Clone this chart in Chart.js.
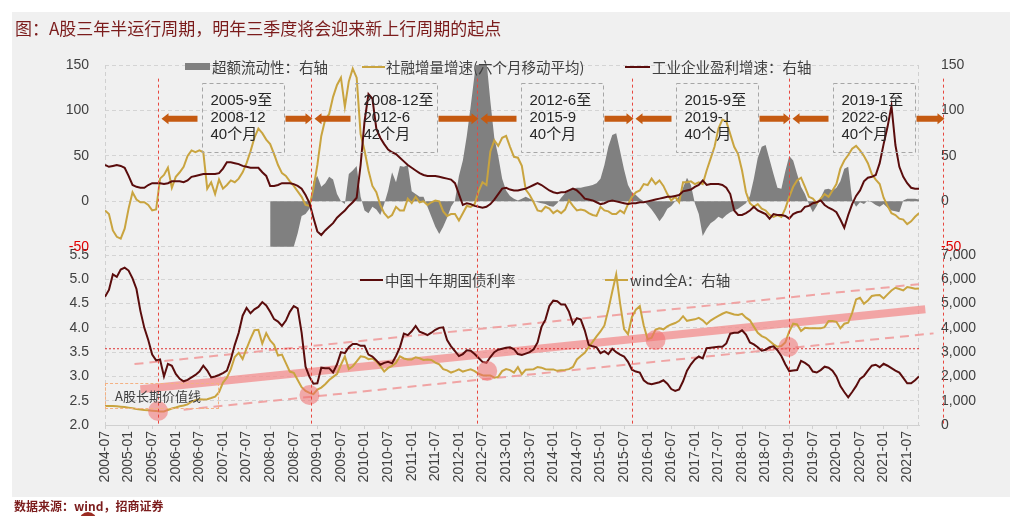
<!DOCTYPE html>
<html lang="zh-CN">
<head>
<meta charset="utf-8">
<title>A股三年半运行周期</title>
<script src="https://cdn.jsdelivr.net/npm/chart.js@4.4.1/dist/chart.umd.min.js"></script>
<style>
  html, body { margin: 0; padding: 0; background: #fff; }
  #wrap { position: relative; width: 1021px; height: 516px; overflow: hidden; font-family: "Noto Sans CJK SC", sans-serif; }
  #panel { position: absolute; left: 12px; top: 12px; width: 998px; height: 485px; background: #f0f0f0; }
  #chart { position: absolute; left: 0; top: 0; }
  .t { position: absolute; white-space: nowrap; line-height: 16px; color: #404040; font-size: 14.5px; }
  .sw { position: absolute; }
  #title { position: absolute; left: 15px; top: 18px; font-size: 17px; line-height: 20px; color: #7b1c1c; white-space: nowrap; }
  #source { position: absolute; left: 14px; top: 498px; font-size: 12px; line-height: 16px; font-weight: bold; color: #7b1c1c; white-space: nowrap; }
  #logo { position: absolute; left: 79px; top: 512px; width: 18px; height: 18px; border-radius: 50%; background: #9b2b22; }
  #valline { position: absolute; left: 105px; top: 383px; width: 112px; height: 24px; border: 1px dashed #f4b183; }
  #valline span { position: absolute; left: 9px; top: 4px; font-size: 13px; line-height: 16px; color: #404040; white-space: nowrap; }
</style>
</head>
<body>
<div id="wrap">
  <div id="panel"></div>
  <canvas id="chart" width="1021" height="516"></canvas>
  <div id="title">图：A股三年半运行周期，明年三季度将会迎来新上行周期的起点</div>

  <div class="sw" style="left:185px;top:63px;width:25px;height:7px;background:#808080"></div>
  <div class="t" style="left:212px;top:59px">超额流动性：右轴</div>
  <div class="sw" style="left:362px;top:66px;width:23px;height:2px;background:#c9a43f"></div>
  <div class="t" style="left:386px;top:59px">社融增量增速(六个月移动平均)</div>
  <div class="sw" style="left:625px;top:66px;width:25px;height:2px;background:#5a0c0c"></div>
  <div class="t" style="left:652px;top:59px">工业企业盈利增速：右轴</div>

  <div class="sw" style="left:360px;top:279px;width:23px;height:2px;background:#5a0c0c"></div>
  <div class="t" style="left:385px;top:272px">中国十年期国债利率</div>
  <div class="sw" style="left:605px;top:279px;width:23px;height:2px;background:#c9a43f"></div>
  <div class="t" style="left:630px;top:272px">wind全A：右轴</div>

  <div id="valline"><span>A股长期价值线</span></div>
  <div id="source">数据来源：wind，招商证券</div>
  <div id="logo"></div>
</div>
<script>
// month labels 2004-07 .. 2021-10
const months = [];
for (let i = 0; i < 208; i++) {
  const m = 6 + i;
  months.push((2004 + Math.floor(m / 12)) + '-' + String(m % 12 + 1).padStart(2, '0'));
}

// tick positions
const xTicks = [];
for (let i = 0; i <= 204; i += 6) xTicks.push(i);
const topTickVals = [-50, 0, 50, 100, 150];
const yieldTicks = [2.0, 2.5, 3.0, 3.5, 4.0, 4.5, 5.0, 5.5];
const indexTicks = [0, 1000, 2000, 3000, 4000, 5000, 6000, 7000];

// 中国十年期国债利率 (%)
const bondYield = [
  4.64,4.78,5.1,5.05,5.2,5.24,5.18,5.02,4.8,4.35,
  4.0,3.75,3.45,3.33,3.35,3.0,3.26,3.22,3.05,2.95,
  2.9,2.93,2.98,3.03,3.1,3.22,3.12,2.98,3.0,3.03,
  3.07,3.12,3.35,3.65,3.9,4.25,4.41,4.3,4.38,4.43,
  4.53,4.46,4.33,4.18,4.13,4.04,4.15,4.33,4.45,4.4,
  3.9,3.2,2.99,2.85,2.86,3.18,3.17,3.17,3.08,3.25,
  3.5,3.48,3.6,3.67,3.67,3.63,3.63,3.45,3.41,3.33,
  3.24,3.28,3.3,3.27,3.42,3.6,3.88,3.85,3.93,4.04,
  3.92,3.89,3.85,3.9,3.96,4.0,4.01,3.75,3.62,3.52,
  3.42,3.46,3.54,3.53,3.46,3.38,3.3,3.28,3.4,3.5,
  3.55,3.57,3.59,3.6,3.56,3.46,3.44,3.47,3.5,3.56,
  3.7,4.02,4.17,4.45,4.56,4.55,4.48,4.48,4.33,4.08,
  4.2,4.17,3.95,3.65,3.62,3.6,3.48,3.52,3.46,3.57,
  3.5,3.45,3.41,3.3,3.14,3.1,3.08,2.92,2.86,2.84,
  2.86,2.88,2.92,2.85,2.74,2.7,2.73,2.9,3.12,3.25,
  3.35,3.41,3.37,3.58,3.59,3.6,3.61,3.61,3.68,3.88,
  3.9,3.9,3.95,3.86,3.7,3.66,3.6,3.53,3.55,3.6,
  3.62,3.54,3.42,3.25,3.11,3.12,3.13,3.32,3.28,3.22,
  3.1,3.08,3.13,3.2,3.18,3.12,3.0,2.8,2.68,2.57,
  2.68,2.8,2.95,3.01,3.12,3.22,3.24,3.19,3.26,3.22,
  3.17,3.12,3.08,2.97,2.86,2.86,2.92,3.0
];

// wind全A
const windA = [
  780,785,780,770,755,740,715,690,660,640,
  620,605,590,575,560,555,620,680,720,770,
  800,850,960,1020,1056,1050,1060,1110,1170,1350,
  1750,1950,2300,2800,2970,2720,3150,3550,3900,3920,
  3350,3780,3480,3300,2860,2900,2550,2200,2150,1850,
  1560,1400,1320,1270,1460,1540,1680,1850,1980,2100,
  2480,2820,2300,2420,2620,2830,2800,2710,2740,2620,
  2430,2200,2350,2430,2560,2830,2740,2700,2700,2790,
  2750,2680,2700,2680,2570,2500,2300,2250,2160,2220,
  2290,2200,2250,2290,2220,2110,2050,2040,2040,1950,
  1980,2220,2300,2260,2160,2380,2090,2280,2290,2300,
  2390,2360,2300,2290,2290,2230,2250,2270,2300,2390,
  2700,2840,2970,3200,3420,3650,3850,4100,4750,5500,
  6200,5000,3950,3740,4450,4750,4890,4100,3530,3590,
  3930,3980,3940,4060,4140,4200,4290,4480,4290,4320,
  4350,4410,4310,4150,4300,4400,4490,4580,4650,4600,
  4550,4530,4580,4420,4310,4050,3800,3660,3590,3460,
  3320,3220,3250,3400,3850,4170,4140,3870,4000,3980,
  3980,3980,3980,4030,4280,4280,4250,3980,4170,4210,
  4620,5170,5240,4990,5130,5310,5340,5350,5210,5380,
  5540,5650,5600,5540,5680,5650,5610,5620
];

// 社融增量增速(六个月移动平均) %
const sfGrowth = [
  -10,-14,-32,-39,-41,-30,-8,10,2,-1,
  -1,-4,-10,-9,25,29,37,15,27,32,
  38,50,56,54,56,54,14,21,8,24,
  14,18,23,21,25,32,42,55,70,80,
  75,68,63,52,40,31,28,22,17,11,
  5,-4,-5,14,40,72,90,96,115,128,
  136,104,132,146,136,74,56,34,17,10,
  -4,-13,-18,-15,-6,-10,-10,3,-2,5,
  -1,0,-4,-1,1,0,-11,-16,-14,-14,
  -21,-13,-5,-6,-3,11,21,18,55,67,
  61,70,72,60,49,48,39,13,7,-1,
  -10,-11,-6,-8,-13,-10,-13,-9,1,-5,
  -10,-9,-10,-13,-15,-16,-6,-10,-11,-14,
  -14,-10,-13,-3,5,10,12,19,18,25,
  19,23,17,8,1,5,-1,21,21,22,
  19,21,19,34,47,60,80,90,88,74,
  60,52,34,10,-2,-6,-3,-8,-10,-15,
  -17,-15,-17,-8,5,16,23,26,16,5,
  3,-2,3,8,5,12,19,36,45,51,
  58,61,56,50,42,30,24,19,4,-5,
  -13,-15,-19,-20,-25,-22,-17,-13
];

// 工业企业盈利增速 %
const profitGrowth = [
  40,38,39,40,39,37,28,18,16,15,
  15,18,20,20,20,19,20,22,22,22,
  21,23,27,28,29,30,30,30,30,31,
  36,43,43,42,41,39,38,37,37,37,
  32,28,17,17,18,20,20,20,19,17,
  14,7,-2,-18,-33,-37,-32,-28,-24,-18,
  -14,-10,-5,-1,4,40,88,118,113,80,
  70,63,57,54,52,48,44,40,37,34,
  31,29,28,28,28,27,26,25,24,20,
  8,-4,-2,-3,-5,-6,-7,-6,-3,2,
  8,14,15,13,12,12,13,14,16,18,
  20,18,15,12,10,9,10,10,12,14,
  12,8,3,2,1,-1,-3,-2,0,1,
  0,-1,-2,-3,-2,-2,-1,-1,0,1,
  2,3,4,5,5,6,7,11,12,13,
  16,18,23,18,19,19,19,18,15,8,
  -10,-15,-15,-13,-10,-6,-10,-12,-14,-19,
  -14,-15,-15,-16,-19,-14,-12,-11,-6,-5,
  -2,-1,1,-4,-7,-9,-12,-20,-29,-15,
  -3,6,12,22,26,27,29,42,63,82,
  105,62,38,27,20,15,14,14
];

// 超额流动性 (starts 2008-01)
const excessLiq = [
  null,null,null,null,null,null,null,null,null,null,
  null,null,null,null,null,null,null,null,null,null,
  null,null,null,null,null,null,null,null,null,null,
  null,null,null,null,null,null,null,null,null,null,
  null,null,-50,-50,-50,-50,-50,-50,-50,-35,
  -16,-14,-8,22,28,16,20,27,24,8,
  0,-3,30,34,39,5,-10,-13,-6,-9,
  -15,-3,12,32,21,39,38,40,11,8,
  5,5,-6,-17,-28,-36,-28,-18,-6,1,
  28,45,72,105,140,170,170,155,110,70,
  50,25,12,6,3,1,3,5,3,1,
  -1,-2,-3,-5,-6,-2,4,9,12,14,
  15,15,16,17,18,20,25,40,60,73,
  75,55,35,18,10,7,3,0,-4,-9,
  -15,-22,-16,-8,-5,0,6,15,26,18,
  -2,-14,-38,-30,-24,-21,-17,-19,-15,-12,
  -10,-8,-5,-2,6,25,48,60,62,46,
  30,15,14,33,50,45,30,16,8,-3,
  -12,-5,4,13,14,12,15,22,36,38,
  2,-6,-1,-3,1,-1,-4,-6,-3,-7,
  -10,-11,-12,1,3,3,3,2
];

// cycle turning points (month index): 2005-9, 2008-12, 2012-6, 2015-9, 2019-1, 2022-6
const cycleAt = [13.5, 52.5, 94.7, 134, 174, 213];
const cycleText = [
  ['2005-9至', '2008-12', '40个月'],
  ['2008-12至', '2012-6', '42个月'],
  ['2012-6至', '2015-9', '40个月'],
  ['2015-9至', '2019-1', '40个月'],
  ['2019-1至', '2022-6', '40个月']
];

// A股长期价值线 and its band, on the wind全A axis: [month index, value]
const valueLineMid = [[9, 1475], [208.6, 4768]];
const valueLineUp = [[7.5, 2510], [207, 5800]];
const valueLineLow = [[20, 627], [210.7, 3773]];
const lowPoints = [[13.5, 576], [52, 1235], [97.2, 2222], [140, 3500], [173.8, 3210], [213, 5230]];
const yieldRef = 3.57;

const gold = '#c9a43f';
const maroon = '#5a0c0c';

const xy = arr => arr.map((v, i) => ({x: i, y: v}));
const pts = arr => arr.map(p => ({x: p[0], y: p[1]}));
const setTicks = vals => s => { s.ticks = vals.map(v => ({value: v})); };

function arrow(ctx, x0, x1, y) {
  const dir = Math.sign(x1 - x0), hl = 7, bh = 3, hh = 5.5;
  ctx.beginPath();
  ctx.moveTo(x0, y - bh);
  ctx.lineTo(x1 - dir * hl, y - bh);
  ctx.lineTo(x1 - dir * hl, y - hh);
  ctx.lineTo(x1, y);
  ctx.lineTo(x1 - dir * hl, y + hh);
  ctx.lineTo(x1 - dir * hl, y + bh);
  ctx.lineTo(x0, y + bh);
  ctx.closePath();
  ctx.fill();
}

const annot = {
  id: 'annot',
  beforeDatasetsDraw(chart) {
    const {ctx, chartArea: a} = chart;
    ctx.save();
    ctx.strokeStyle = '#d0d0d0';
    ctx.lineWidth = 1;
    ctx.setLineDash([4, 3]);
    ctx.beginPath();
    [a.left + 0.5, a.right - 0.5].forEach(px => { ctx.moveTo(px, a.top); ctx.lineTo(px, a.bottom); });
    ctx.stroke();
    ctx.restore();
  },
  afterDatasetsDraw(chart) {
    const {ctx, chartArea: a, scales} = chart;
    const yT = scales.yTopR;
    const xs = cycleAt.map(v => Math.round(scales.x.getPixelForValue(v)) + 0.5);
    ctx.save();
    ctx.strokeStyle = '#e8473f';
    ctx.lineWidth = 1;
    ctx.setLineDash([3, 3]);
    ctx.beginPath();
    xs.forEach(px => { ctx.moveTo(px, yT.getPixelForValue(135)); ctx.lineTo(px, a.bottom); });
    ctx.stroke();

    const top = Math.round(yT.getPixelForValue(130)) + 0.5;
    const bot = Math.round(yT.getPixelForValue(54)) + 0.5;
    const ay = yT.getPixelForValue(91);
    ctx.font = '15px "Liberation Sans", Arial, "Noto Sans CJK SC", sans-serif';
    ctx.textBaseline = 'middle';
    cycleText.forEach((lines, k) => {
      const bx = Math.round(xs[k] + 43) + 0.5, bw = 82;
      ctx.setLineDash([4, 3]);
      ctx.strokeStyle = '#a6a6a6';
      ctx.strokeRect(bx, top, bw, bot - top);
      ctx.fillStyle = '#262626';
      lines.forEach((s, j) => ctx.fillText(s, bx + 8, top + 17 * (j + 1)));
      ctx.fillStyle = '#c55a11';
      arrow(ctx, bx - 5, xs[k] + 3, ay);
      arrow(ctx, bx + bw + 1, xs[k + 1] + 1, ay);
    });
    ctx.restore();
  }
};

Chart.defaults.font.family = '"Liberation Sans", Arial, "Noto Sans CJK SC", sans-serif';
Chart.defaults.font.size = 14;
Chart.defaults.color = '#404040';

const tickColor = c => (c.tick && c.tick.value < 0) ? '#e00000' : '#404040';

new Chart(document.getElementById('chart'), {
  type: 'line',
  data: {
    datasets: [
      { label: '超额流动性：右轴', data: xy(excessLiq), yAxisID: 'yTopR', borderWidth: 0, borderColor: 'rgba(0,0,0,0)',
        backgroundColor: '#808080', fill: 'origin', order: 9 },
      { label: '社融增量增速(六个月移动平均)', data: xy(sfGrowth), yAxisID: 'yTopL', borderColor: gold, borderWidth: 2, order: 3 },
      { label: '工业企业盈利增速：右轴', data: xy(profitGrowth), yAxisID: 'yTopR', borderColor: maroon, borderWidth: 2, order: 2 },
      { label: '中国十年期国债利率', data: xy(bondYield), yAxisID: 'yBotL', borderColor: maroon, borderWidth: 2, order: 2 },
      { label: 'wind全A：右轴', data: xy(windA), yAxisID: 'yBotR', borderColor: gold, borderWidth: 2, order: 3 },
      { label: 'A股长期价值线', data: pts(valueLineMid), yAxisID: 'yBotR', borderColor: 'rgba(243,140,140,0.75)',
        borderWidth: 8, borderCapStyle: 'butt', clip: false, order: 5 },
      { label: 'upper', data: pts(valueLineUp), yAxisID: 'yBotR', borderColor: 'rgba(240,155,155,0.9)',
        borderWidth: 2, borderDash: [9, 6], clip: false, order: 5 },
      { label: 'lower', data: pts(valueLineLow), yAxisID: 'yBotR', borderColor: 'rgba(240,155,155,0.9)',
        borderWidth: 2, borderDash: [9, 6], clip: false, order: 5 },
      { label: 'ref', data: [{x: 0, y: yieldRef}, {x: 207, y: yieldRef}], yAxisID: 'yBotL', borderColor: '#e03030',
        borderWidth: 1, borderDash: [2, 2], order: 4 },
      { label: 'lows', data: pts(lowPoints), yAxisID: 'yBotR', showLine: false, pointRadius: 10,
        pointBackgroundColor: 'rgba(240,110,110,0.55)', pointBorderWidth: 0, clip: false, order: 0 }
    ]
  },
  options: {
    responsive: false,
    animation: false,
    layout: { padding: { top: 65, left: 0, right: 0, bottom: 0 } },
    elements: { point: { radius: 0 }, line: { tension: 0 } },
    plugins: { legend: { display: false }, tooltip: { enabled: false } },
    scales: {
      x: {
        type: 'linear', min: 0, max: 207,
        afterBuildTicks: setTicks(xTicks),
        afterFit: s => { s.height = 91; },
        ticks: { autoSkip: false, minRotation: 90, maxRotation: 90, padding: 2,
          callback: v => months[v] },
        grid: { drawOnChartArea: false, drawTicks: true, tickLength: 4, color: '#d0d0d0' },
        border: { color: '#d0d0d0' }
      },
      yBotL: {
        position: 'left', stack: 'L', stackWeight: 170, min: 2, max: 5.5,
        afterBuildTicks: setTicks(yieldTicks),
        afterFit: s => { s.width = 105; },
        ticks: { autoSkip: false, padding: 16, callback: v => v.toFixed(1) },
        grid: { color: '#d4d4d4', drawTicks: false },
        border: { display: false, dash: [4, 3] }
      },
      yTopR: {
        position: 'right', stack: 'R', stackWeight: 190, min: -59, max: 150,
        afterBuildTicks: setTicks(topTickVals),
        afterFit: s => { s.width = 102; },
        ticks: { autoSkip: false, padding: 14, color: tickColor },
        grid: { display: false },
        border: { display: false }
      },
      yBotR: {
        position: 'right', stack: 'R', stackWeight: 170, min: 0, max: 7000,
        afterBuildTicks: setTicks(indexTicks),
        afterFit: s => { s.width = 102; },
        ticks: { autoSkip: false, padding: 14, callback: v => v.toLocaleString('en-US') },
        grid: { display: false },
        border: { display: false }
      },
      yTopL: {
        position: 'left', stack: 'L', stackWeight: 190, min: -59, max: 150,
        afterBuildTicks: setTicks(topTickVals),
        afterFit: s => { s.width = 105; },
        ticks: { autoSkip: false, padding: 16, color: tickColor },
        grid: { color: '#d4d4d4', drawTicks: false },
        border: { display: false, dash: [4, 3] }
      }
    }
  },
  plugins: [annot]
});
</script>
</body>
</html>
